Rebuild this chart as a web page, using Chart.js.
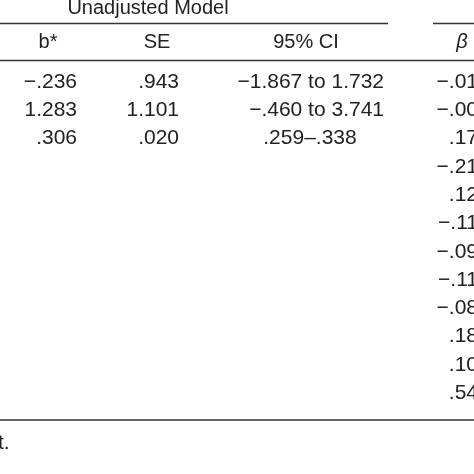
<!DOCTYPE html>
<html>
<head>
<meta charset="utf-8">
<script src="https://cdn.jsdelivr.net/npm/chart.js@4/dist/chart.umd.min.js"></script>
<style>
  html, body { margin: 0; padding: 0; background: #fff; }
  #wrap { width: 474px; height: 474px; }
</style>
</head>
<body>
<div id="wrap"><canvas id="tableChart"></canvas></div>
<script>
// table contents
const groupTitle = "Unadjusted Model";
const headers = ["b*", "SE", "95% CI", "β"];
const bValues = ["−.236", "1.283", ".306"];
const seValues = [".943", "1.101", ".020"];
const ciValues = ["−1.867 to 1.732", "−.460 to 3.741", ".259–.338"];
const betaValues = ["−.01", "−.00", ".17", "−.21", ".12", "−.11", "−.09", "−.11", "−.08", ".18", ".10", ".54"];
const footText = "t.";

const FONT = "'Liberation Sans', Arial, sans-serif";
const ink = "#222";

// row y positions in page units (scale is 0..474, top down)
const rowY = (i) => 82 + i * 28.3;

const tablePlugin = {
  id: "tablePlugin",
  afterDraw(chart) {
    const ctx = chart.ctx;
    const xs = chart.scales.x, ys = chart.scales.y;
    const X = (v) => xs.getPixelForValue(v);
    const Y = (v) => ys.getPixelForValue(v);

    const text = (s, x, y, align, size, italic) => {
      ctx.font = (italic ? "italic " : "") + size + "px " + FONT;
      ctx.textAlign = align;
      ctx.textBaseline = "middle";
      ctx.fillStyle = ink;
      ctx.fillText(s, X(x), Y(y));
    };
    const hline = (x0, x1, y, w) => {
      ctx.strokeStyle = "#333";
      ctx.lineWidth = w;
      ctx.beginPath();
      ctx.moveTo(X(x0), Y(y));
      ctx.lineTo(X(x1), Y(y));
      ctx.stroke();
    };

    ctx.save();
    text(groupTitle, 148, 8, "center", 20);
    hline(0, 388, 23.5, 1.5);
    hline(433, 474, 23.5, 1.5);

    text(headers[0], 48, 42, "center", 20);
    text(headers[1], 157, 42, "center", 20);
    text(headers[2], 306, 42, "center", 20);
    text(headers[3], 462, 42, "center", 20, true);
    hline(0, 474, 60.5, 1.5);

    bValues.forEach((v, i) => text(v, 77, rowY(i), "right", 21));
    seValues.forEach((v, i) => text(v, 179, rowY(i), "right", 21));
    ciValues.forEach((v, i) => {
      if (i < 2) text(v, 384, rowY(i), "right", 21);
      else text(v, 310, rowY(i), "center", 21);
    });
    betaValues.forEach((v, i) => text(v, 478, rowY(i), "right", 21));

    hline(0, 474, 420, 1.5);
    text(footText, -2, 443, "left", 21);
    ctx.restore();
  }
};

new Chart(document.getElementById("tableChart"), {
  type: "scatter",
  data: { datasets: [{ data: [], pointRadius: 0 }] },
  options: {
    responsive: true,
    maintainAspectRatio: false,
    animation: false,
    layout: { padding: 0 },
    plugins: { legend: { display: false }, tooltip: { enabled: false } },
    scales: {
      x: { type: "linear", min: 0, max: 474, display: false },
      y: { type: "linear", min: 0, max: 474, reverse: true, display: false }
    }
  },
  plugins: [tablePlugin]
});
</script>
</body>
</html>
